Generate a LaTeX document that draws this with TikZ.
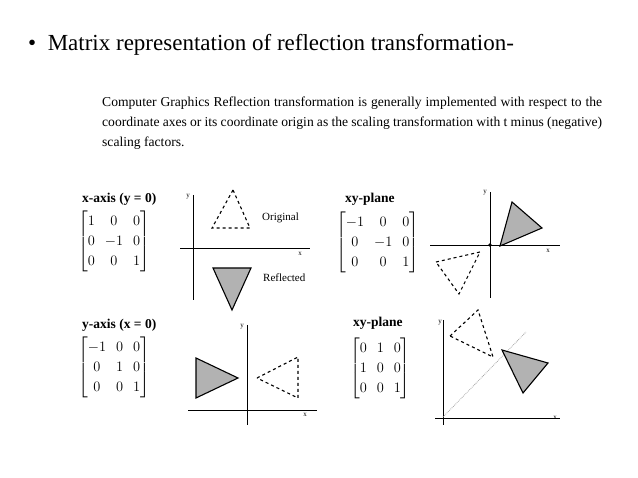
\documentclass[tikz,border=0pt]{standalone}
\usepackage{amsmath}
\usepackage{fontspec}
\setmainfont{Liberation Serif}
\begin{document}
\begin{tikzpicture}[x=1pt,y=-1pt,
  ax/.style={line width=0.9pt},
  dtri/.style={dashed,line width=1.1pt},
  ftri/.style={draw,line width=1.1pt,fill=gray!60},
  lab/.style={font=\fontsize{13.5}{15}\selectfont\bfseries,anchor=west,inner sep=0},
  mat/.style={font=\fontsize{14}{16}\selectfont\renewcommand{\arraystretch}{1.25},anchor=north west,inner sep=0},
  tiny/.style={font=\fontsize{7}{8}\selectfont,inner sep=0}]
\useasboundingbox (0,0) rectangle (638,478);
\node[anchor=west,font=\fontsize{23}{26}\selectfont,inner sep=0] (title) at (28,45) {\textbullet\ \ Matrix representation of reflection transformation-};
\node[anchor=north west,text width=500pt,align=justify,font=\fontsize{13.6}{20}\selectfont,inner sep=0] (para) at (102,97)
 {\hyphenpenalty=10000 Computer Graphics Reflection transformation is generally implemented with respect to the coordinate axes or its coordinate origin as the scaling transformation with t minus (negative) scaling factors.};
% panel 1
\node[lab] (l1) at (82,199) {x-axis (y = 0)};
\node[mat] (m1) at (78,211) {$\begin{bmatrix}1&0&0\\0&-1&0\\0&0&1\end{bmatrix}$};
\draw[ax] (193,195)--(193,300); \draw[ax] (180,248)--(310,248);
\node[tiny] (y1) at (188,197) {y}; \node[tiny] (x1) at (300,254) {x};
\draw[dtri] (233,190)--(212,228)--(250,228)--cycle;
\draw[ftri] (213,268)--(251,268)--(232,310)--cycle;
\node[anchor=west,font=\fontsize{11}{13}\selectfont,inner sep=0] (o1) at (262,218) {Original};
\node[anchor=west,font=\fontsize{11}{13}\selectfont,inner sep=0] (r1) at (263,278) {Reflected};
% panel 2
\node[lab] (l2) at (345,199) {xy-plane};
\node[mat] (m2) at (336,212) {$\begin{bmatrix}-1&0&0\\0&-1&0\\0&0&1\end{bmatrix}$};
\draw[ax] (490,192)--(490,298); \draw[ax] (430,245)--(560,245);
\fill (490,245) circle (1.8);
\node[tiny] (y2) at (485,193) {y}; \node[tiny] (x2) at (548,251) {x};
\draw[ftri] (500,246)--(512,202)--(542,228)--cycle;
\draw[dtri] (436,262)--(480,252)--(459,294)--cycle;
% panel 3
\node[lab] (l3) at (82,325) {y-axis (x = 0)};
\node[mat] (m3) at (78,337) {$\begin{bmatrix}-1&0&0\\0&1&0\\0&0&1\end{bmatrix}$};
\draw[ax] (247,325)--(247,425); \draw[ax] (188,410)--(317,410);
\node[tiny] (y3) at (242,327) {y}; \node[tiny] (x3) at (305,415) {x};
\draw[ftri] (196,358)--(238,378)--(196,398)--cycle;
\draw[dtri] (257,378)--(298,357)--(298,398)--cycle;
% panel 4
\node[lab] (l4) at (353,323) {xy-plane};
\node[mat] (m4) at (350,338) {$\begin{bmatrix}0&1&0\\1&0&0\\0&0&1\end{bmatrix}$};
\draw[ax] (443,320)--(443,425); \draw[ax] (435,418)--(560,418);
\draw[gray!70,densely dotted,line width=0.8pt] (443,417)--(526,332);
\node[tiny] (y4) at (440,323) {y}; \node[tiny] (x4) at (555,418) {x};
\draw[dtri] (450,336)--(478,310)--(493,357)--cycle;
\draw[ftri] (502,350)--(548,363)--(523,393)--cycle;
\end{tikzpicture}
\end{document}
